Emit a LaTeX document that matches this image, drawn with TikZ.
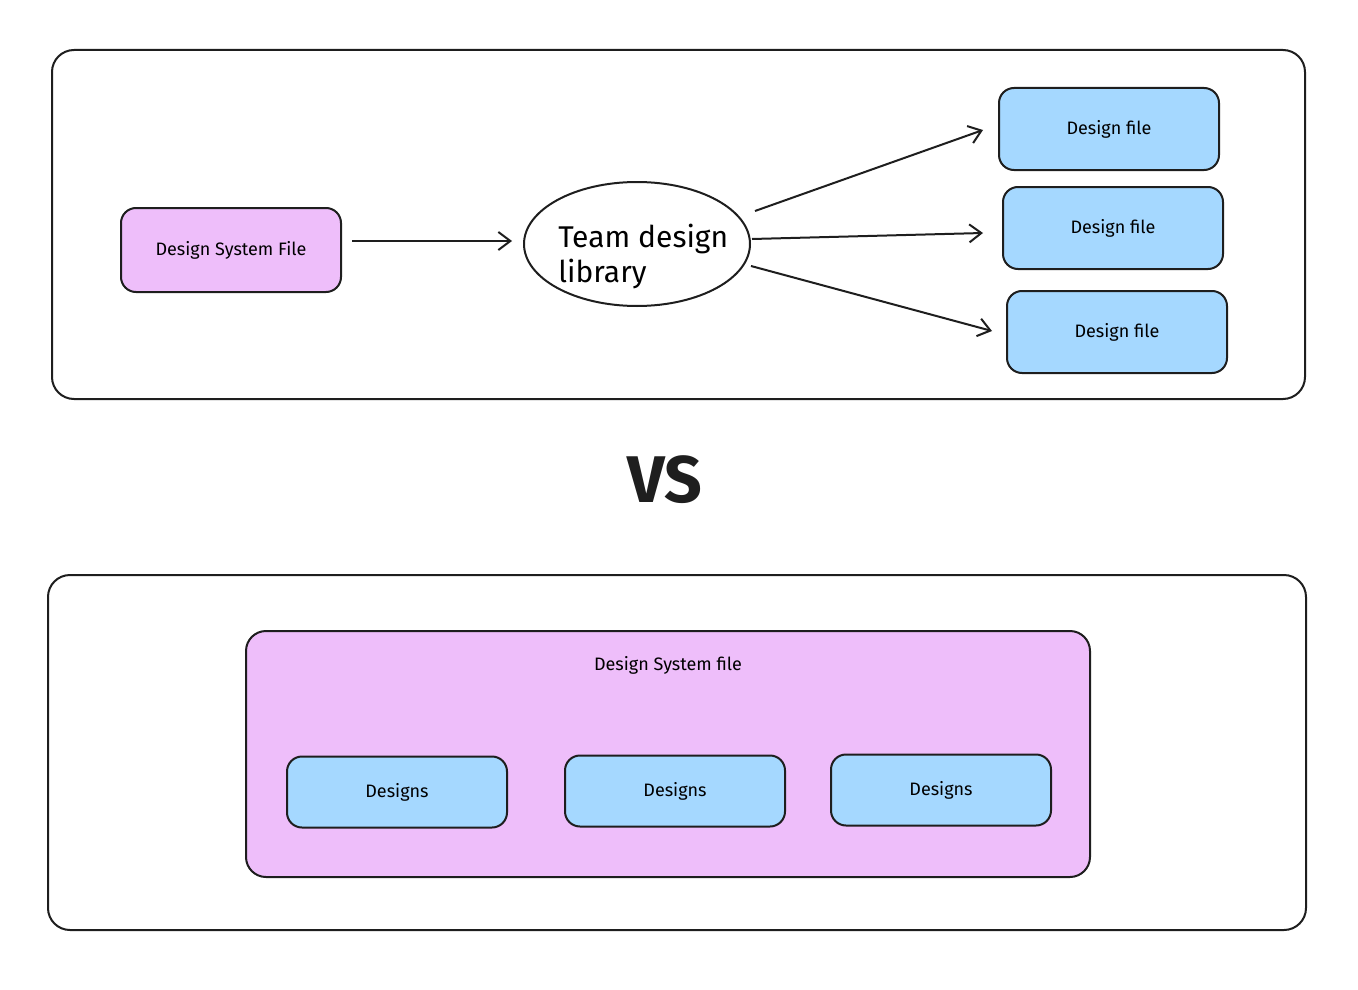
\documentclass[tikz,border=0pt]{standalone}
\usepackage{fontspec}
\setmainfont{Fira Sans}
\usetikzlibrary{arrows.meta, positioning, shapes.geometric, calc}
\definecolor{cpink}{HTML}{EEBEFA}
\definecolor{cblue}{HTML}{A5D8FF}
\definecolor{cink}{HTML}{1E1E1E}
\tikzset{
  every picture/.style={line width=2pt, draw=cink},
  frame/.style={draw=cink, rounded corners=22pt},
  box/.style={draw=cink, fill=#1, rounded corners=15pt, align=center, font=\fontsize{18}{21}\selectfont,
    minimum width=220pt, minimum height=82pt, inner sep=0pt},
  box/.default=cblue,
  arrow/.style={-{Straight Barb[length=12pt, width=18pt, line width=2pt]}, draw=cink},
}
\begin{document}
\begin{tikzpicture}[x=1pt, y=-1pt]
  \useasboundingbox (0,0) rectangle (1358,990);
  % top panel: one library feeding many files
  \draw[frame] (52,50) rectangle (1305,399);
  \node[box=cpink, minimum height=84pt] (dsf) at (231,250) {Design System File};
  \node[ellipse, draw=cink, minimum width=226pt, minimum height=124pt, inner sep=0pt] (lib) at (637,244) {};
  \node[align=left, anchor=west, font=\fontsize{30}{35}\selectfont] (libtxt) at (554,256) {Team design\\library};
  \node[box] (f1) at (1109,129) {Design file};
  \node[box] (f2) at (1113,228) {Design file};
  \node[box] (f3) at (1117,332) {Design file};
  \draw[arrow] ($(dsf.east)+(10,-9)$) -- ($(lib.west)+(-11,-3)$);
  \draw[arrow] ($(lib.east)+(4,-33)$) -- ($(f1.west)+(-15,1)$);
  \draw[arrow] ($(lib.east)+(1,-5)$) -- ($(f2.west)+(-19,5)$);
  \draw[arrow] ($(lib.east)+(0,22)$) -- ($(f3.west)+(-14,-1)$);
  % middle
  \node[font=\fontsize{66}{72}\selectfont\bfseries, text=cink] (vs) at (665,480) {VS};
  % bottom panel: everything inside one file
  \draw[frame] (48,575) rectangle (1306,930);
  \node[box=cpink, minimum width=844pt, minimum height=246pt, rounded corners=20pt] (sys) at (668,754) {};
  \node[font=\fontsize{18}{21}\selectfont, below=22pt of sys.north] (syslbl) {Design System file};
  \node[box, minimum height=71pt] (d1) at (397,792) {Designs};
  \node[box, minimum height=71pt] (d2) at (675,791) {Designs};
  \node[box, minimum height=71pt] (d3) at (941,790) {Designs};
\end{tikzpicture}
\end{document}
